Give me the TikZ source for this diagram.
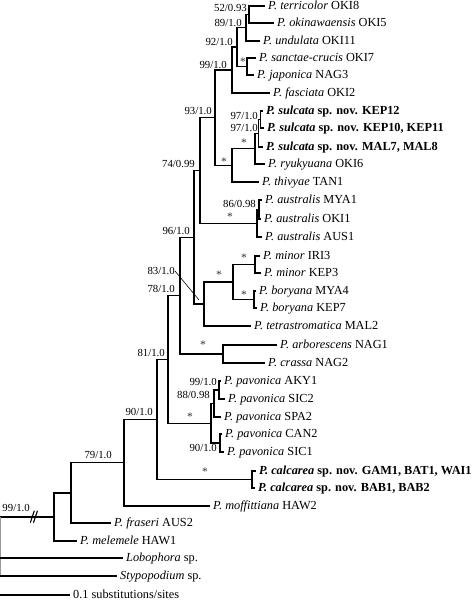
\documentclass[tikz,border=0pt]{standalone}
\usepackage{fontspec}
\setmainfont{Liberation Serif}
\newcommand\leaffont{\fontsize{12.3}{14}\selectfont}
\newcommand\suppfont{\fontsize{10.8}{12}\selectfont}
\newcommand\astfont{\fontsize{11.5}{12}\selectfont}
\newcommand\mkclade[3]{\draw[br] (#2) -- (#1 |- #2) -- (#1 |- #3) -- (#3);}
\begin{document}
\begin{tikzpicture}[x=1pt,y=-1pt,
  br/.style={line width=1.4pt, line join=miter},
  leaf/.style={anchor=west, inner xsep=3pt, inner ysep=0pt, text height=0.68em, text depth=0pt, font=\leaffont},
  supp/.style={anchor=east, inner sep=0pt, font=\suppfont},
  ast/.style={inner sep=0pt, font=\astfont, text=black!80}]
\useasboundingbox (0,0) rectangle (474,601);
% leaves
\node[leaf] (t1) at (265,6) {\textit{P. terricolor} OKI8};
\node[leaf] (t2) at (274,23) {\textit{P. okinawaensis} OKI5};
\node[leaf] (t3) at (260,41) {\textit{P. undulata} OKI11};
\node[leaf] (t4) at (256,58) {\textit{P. sanctae-crucis} OKI7};
\node[leaf] (t5) at (254,75) {\textit{P. japonica} NAG3};
\node[leaf] (t6) at (270,93) {\textit{P. fasciata} OKI2};
\node[leaf] (t7) at (263,111) {\textbf{\textit{P. sulcata} sp. nov. KEP12}};
\node[leaf] (t8) at (264,128) {\textbf{\textit{P. sulcata} sp. nov. KEP10, KEP11}};
\node[leaf] (t9) at (263,147) {\textbf{\textit{P. sulcata} sp. nov. MAL7, MAL8}};
\node[leaf] (t10) at (265,164) {\textit{P. ryukyuana} OKI6};
\node[leaf] (t11) at (259,182) {\textit{P. thivyae} TAN1};
\node[leaf] (t12) at (262,200) {\textit{P. australis} MYA1};
\node[leaf] (t13) at (261,219) {\textit{P. australis} OKI1};
\node[leaf] (t14) at (262,237) {\textit{P. australis} AUS1};
\node[leaf] (t15) at (260,256) {\textit{P. minor} IRI3};
\node[leaf] (t16) at (261,273) {\textit{P. minor} KEP3};
\node[leaf] (t17) at (256,291) {\textit{P. boryana} MYA4};
\node[leaf] (t18) at (257,308) {\textit{P. boryana} KEP7};
\node[leaf] (t19) at (251,326) {\textit{P. tetrastromatica} MAL2};
\node[leaf] (t20) at (277,345) {\textit{P. arborescens} NAG1};
\node[leaf] (t21) at (265,363) {\textit{P. crassa} NAG2};
\node[leaf] (t22) at (221,381) {\textit{P. pavonica} AKY1};
\node[leaf] (t23) at (225,399) {\textit{P. pavonica} SIC2};
\node[leaf] (t24) at (221,417) {\textit{P. pavonica} SPA2};
\node[leaf] (t25) at (222,434) {\textit{P. pavonica} CAN2};
\node[leaf] (t26) at (224,452) {\textit{P. pavonica} SIC1};
\node[leaf] (t27) at (256,471) {\textbf{\textit{P. calcarea} sp. nov. GAM1, BAT1, WAI1}};
\node[leaf] (t28) at (255,488) {\textbf{\textit{P. calcarea} sp. nov. BAB1, BAB2}};
\node[leaf] (t29) at (210,506) {\textit{P. moffittiana} HAW2};
\node[leaf] (t30) at (111,523) {\textit{P. fraseri} AUS2};
\node[leaf] (t31) at (77,541) {\textit{P. melemele} HAW1};
\node[leaf] (t32) at (123,558) {\textit{Lobophora} sp.};
\node[leaf] (t33) at (117,576) {\textit{Stypopodium} sp.};
% internal nodes
\coordinate (A) at (249,14.5);
\coordinate (B) at (246,27.75);
\coordinate (D) at (247,66.5);
\coordinate (C) at (237,47.1);
\coordinate (E) at (232,70.05);
\coordinate (J) at (260.5,119.5);
\coordinate (K) at (258.5,133.25);
\coordinate (H) at (255,148.6);
\coordinate (G) at (232,165.3);
\coordinate (F) at (215,117.7);
\coordinate (N) at (259,209.5);
\coordinate (M) at (257,223.25);
\coordinate (L) at (200,170.5);
\coordinate (S) at (255,264.5);
\coordinate (T) at (254,299.5);
\coordinate (R) at (233,282);
\coordinate (Q) at (204,304);
\coordinate (O) at (194,237.25);
\coordinate (U) at (223,354);
\coordinate (P) at (180,295.6);
\coordinate (Z) at (219,390);
\coordinate (X) at (214,403.5);
\coordinate (Y) at (220,443);
\coordinate (W) at (211,423.25);
\coordinate (V) at (168,359.4);
\coordinate (CC) at (252,479.5);
\coordinate (AA) at (157,419.5);
\coordinate (AB) at (124,462.75);
\coordinate (AC) at (71,492.9);
\coordinate (AD) at (54,517);
\coordinate (root) at (0.4,517);
% clades
\mkclade{A}{t1}{t2}
\mkclade{B}{A}{t3}
\mkclade{D}{t4}{t5}
\mkclade{C}{B}{D}
\mkclade{E}{C}{t6}
\mkclade{J}{t7}{t8}
\mkclade{K}{J}{t9}
\mkclade{H}{K}{t10}
\mkclade{G}{H}{t11}
\mkclade{F}{E}{G}
\mkclade{N}{t12}{t13}
\mkclade{M}{N}{t14}
\mkclade{L}{F}{M}
\mkclade{S}{t15}{t16}
\mkclade{T}{t17}{t18}
\mkclade{R}{S}{T}
\mkclade{Q}{R}{t19}
\mkclade{O}{L}{Q}
\mkclade{U}{t20}{t21}
\mkclade{P}{O}{U}
\mkclade{Z}{t22}{t23}
\mkclade{X}{Z}{t24}
\mkclade{Y}{t25}{t26}
\mkclade{W}{X}{Y}
\mkclade{V}{P}{W}
\mkclade{CC}{t27}{t28}
\mkclade{AA}{V}{CC}
\mkclade{AB}{AA}{t29}
\mkclade{AC}{AB}{t30}
\mkclade{AD}{AC}{t31}
% root
\draw[br] (AD) -- (root);
\draw[line width=1.5pt, black!40] (root) -- (root |- t33);
\draw[br] (root |- t32) -- (t32);
\draw[br] (root |- t33) -- (t33);
% break marks
\coordinate (bk1a) at (30.3,522.7); \coordinate (bk1b) at (34.3,510.7);
\coordinate (bk2a) at (33.5,522.7); \coordinate (bk2b) at (37.5,510.7);
\draw[line width=1.1pt] (bk1a) -- (bk1b);
\draw[line width=1.1pt] (bk2a) -- (bk2b);
% support values
\node[supp] (s1) at (247,8) {52/0.93};
\node[supp] (s2) at (242,23) {89/1.0};
\node[supp] (s3) at (233,42) {92/1.0};
\node[supp] (s4) at (227,65) {99/1.0};
\node[supp] (s5) at (212,111) {93/1.0};
\node[supp] (s6) at (258,116) {97/1.0};
\node[supp] (s7) at (258,128) {97/1.0};
\node[supp] (s8) at (195,164) {74/0.99};
\node[supp] (s9) at (256,204) {86/0.98};
\node[supp] (s10) at (190,231) {96/1.0};
\node[supp] (s11) at (175,271) {83/1.0};
\node[supp] (s12) at (175,289) {78/1.0};
\node[supp] (s13) at (165,353) {81/1.0};
\node[supp] (s14) at (217,382) {99/1.0};
\node[supp] (s15) at (210,395) {88/0.98};
\node[supp] (s16) at (217,448) {90/1.0};
\node[supp] (s17) at (153,412) {90/1.0};
\node[supp] (s18) at (112,455) {79/1.0};
\node[supp] (s19) at (30,508) {99/1.0};
\coordinate (qpt) at (199,300);
\draw[line width=0.6pt] (s11.east) -- (qpt);
% asterisks
\node[ast] (a1) at (243,62) {*};
\node[ast] (a2) at (244,143) {*};
\node[ast] (a3) at (224,162) {*};
\node[ast] (a4) at (230,217) {*};
\node[ast] (a5) at (219,275) {*};
\node[ast] (a6) at (244,258) {*};
\node[ast] (a7) at (244,295) {*};
\node[ast] (a8) at (203,345) {*};
\node[ast] (a9) at (190,417) {*};
\node[ast] (a10) at (205,472) {*};
% scale bar
\coordinate (sb0) at (0,595);
\node[leaf] (sbl) at (70,595) {0.1 substitutions/sites};
\draw[br] (sb0) -- (sbl);
\end{tikzpicture}
\end{document}
